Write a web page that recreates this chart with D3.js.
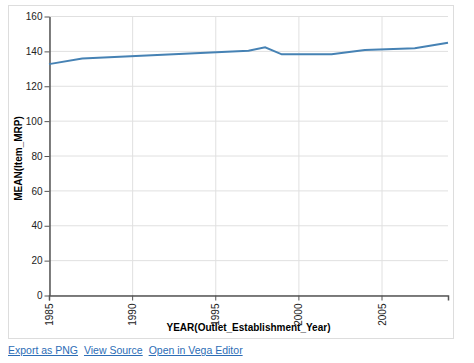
<!DOCTYPE html>
<html lang="en">
<head>
    <meta charset="UTF-8">
    <title>MEAN(Item_MRP) by year</title>
    <style>
        body {
            margin: 0;
            font-family: 'Liberation Sans', Arial, Helvetica, sans-serif;
            background: #fff;
        }
        #box {
            position: absolute;
            left: 8px;
            top: 5px;
            width: 444px;
            height: 332px;
            border: 1px solid #ddd;
        }
        svg { position: absolute; left: 0; top: 0; }
        svg text { font-family: 'Liberation Sans', Arial, Helvetica, sans-serif; }
        .links {
            position: absolute;
            left: 8px;
            top: 344px;
            font-size: 10.5px;
        }
        .links a {
            color: #2c6db6;
            margin-right: 3px;
        }
    </style>
    <script src="https://d3js.org/d3.v7.min.js"></script>
</head>
<body>
    <div id="box"></div>
    <svg width="474" height="363"></svg>
    <div class="links">
        <a href="#">Export as PNG</a> <a href="#">View Source</a> <a href="#">Open in Vega Editor</a>
    </div>
    <script>
        // values
        const years = [1985, 1987, 1997, 1998, 1999, 2002, 2004, 2007, 2009];
        const meanMrp = [132.4, 135.6, 140.1, 142.0, 138.0, 138.0, 140.5, 141.5, 144.7];
        const xTicks = [1985, 1990, 1995, 2000, 2005];
        const yTicks = [0, 20, 40, 60, 80, 100, 120, 140, 160];

        const data = years.map((y, i) => ({ year: y, value: meanMrp[i] }));

        const mLeft = 49, mRight = 448, mTop = 16, mBottom = 295;
        const svg = d3.select("svg");

        const x = d3.scaleLinear().domain([1985, 2009]).range([mLeft, mRight]);
        const y = d3.scaleLinear().domain([0, 160]).range([mBottom, mTop]);

        // grid
        svg.append("g")
            .selectAll("line")
            .data(yTicks)
            .enter().append("line")
            .attr("x1", mLeft).attr("x2", mRight)
            .attr("y1", d => y(d) + 0.5).attr("y2", d => y(d) + 0.5)
            .attr("stroke", "#e0e0e0");

        svg.append("g")
            .selectAll("line")
            .data(xTicks)
            .enter().append("line")
            .attr("x1", d => x(d) + 0.5).attr("x2", d => x(d) + 0.5)
            .attr("y1", mTop).attr("y2", mBottom)
            .attr("stroke", "#e0e0e0");

        // axes
        const yAxis = svg.append("g")
            .attr("transform", `translate(${mLeft + 0.5},0.5)`)
            .call(d3.axisLeft(y).tickValues(yTicks).tickSize(5).tickSizeOuter(0));
        yAxis.select(".domain").attr("stroke", "#555").attr("stroke-width", 1.5);
        yAxis.selectAll(".tick line").attr("stroke", "#555");
        yAxis.selectAll("text")
            .attr("x", -7)
            .style("font-size", "10px")
            .attr("fill", "#222");

        const xAxis = svg.append("g")
            .attr("transform", `translate(0,${mBottom + 0.5})`)
            .call(d3.axisBottom(x).tickValues(xTicks).tickFormat(d3.format("d")).tickSize(5).tickSizeOuter(5));
        xAxis.select(".domain").attr("stroke", "#555").attr("stroke-width", 1.5);
        xAxis.selectAll(".tick line").attr("stroke", "#555");
        xAxis.selectAll("text")
            .attr("transform", "rotate(-90)")
            .attr("text-anchor", "end")
            .attr("x", -8)
            .attr("y", 0)
            .attr("dy", "0.35em")
            .style("font-size", "10px")
            .attr("fill", "#222");

        // line
        svg.append("path")
            .datum(data)
            .attr("fill", "none")
            .attr("stroke", "#4682b4")
            .attr("stroke-width", 2)
            .attr("d", d3.line().x(d => x(d.year)).y(d => y(d.value)));

        // titles
        svg.append("text")
            .attr("x", (mLeft + mRight) / 2)
            .attr("y", 331)
            .attr("text-anchor", "middle")
            .style("font-size", "10px")
            .style("font-weight", "700")
            .text("YEAR(Outlet_Establishment_Year)");

        svg.append("text")
            .attr("transform", `translate(22,${(mTop + mBottom) / 2 + 3}) rotate(-90)`)
            .attr("text-anchor", "middle")
            .style("font-size", "10px")
            .style("font-weight", "700")
            .text("MEAN(Item_MRP)");
    </script>
</body>
</html>
